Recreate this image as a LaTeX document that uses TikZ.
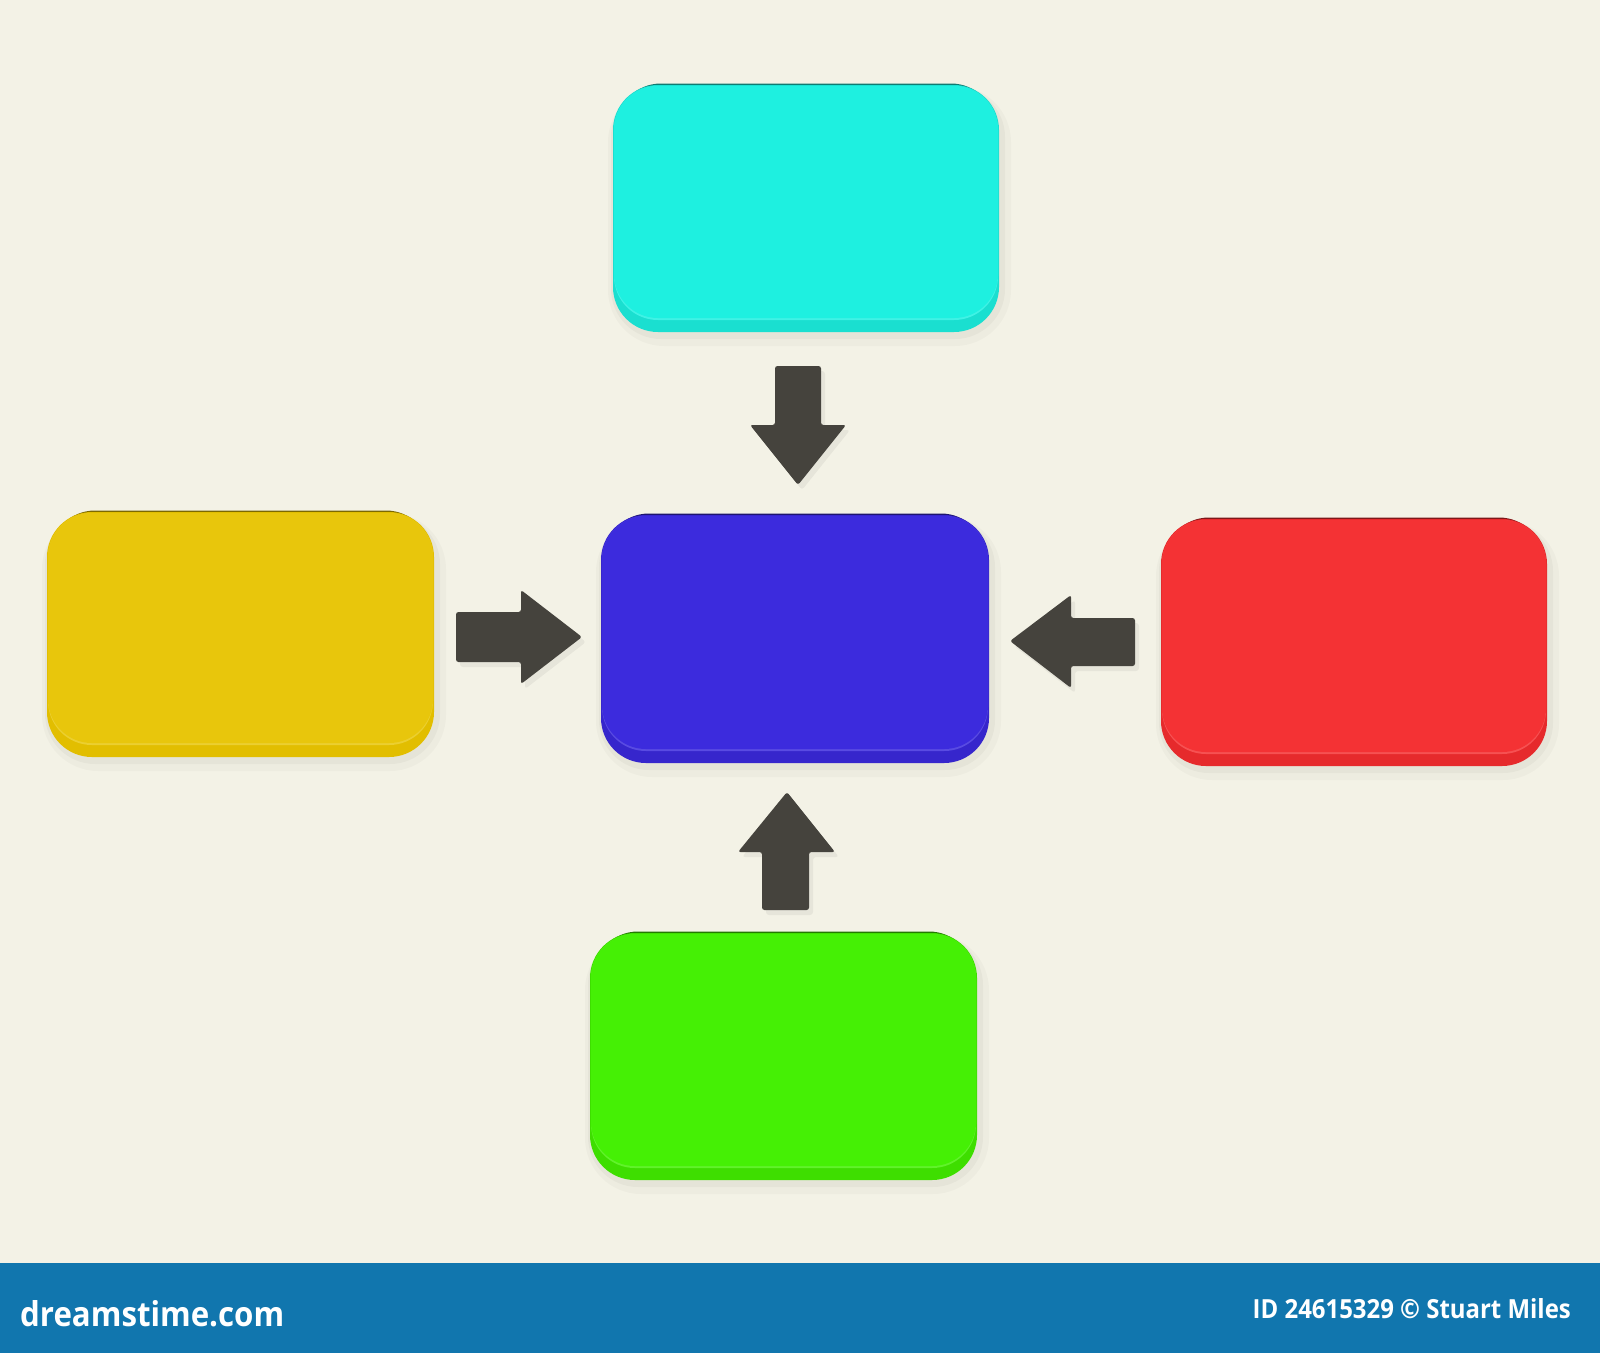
\documentclass[tikz,border=0pt]{standalone}
\usepackage{graphicx}
\usepackage{fontspec}
\newfontfamily\logofont{Open Sans}
\newfontfamily\creditfont{Open Sans}
\definecolor{bgc}{HTML}{F3F2E6}
\definecolor{barc}{HTML}{1176AE}
\definecolor{arrowc}{HTML}{45433D}
\definecolor{cyanface}{HTML}{1EF0E0}
\definecolor{cyanside}{HTML}{1ADFD0}
\definecolor{yelface}{HTML}{E8C60C}
\definecolor{yelside}{HTML}{E2BE00}
\definecolor{blueface}{HTML}{3C2BDD}
\definecolor{blueside}{HTML}{3626CC}
\definecolor{redface}{HTML}{F43234}
\definecolor{redside}{HTML}{E62A2C}
\definecolor{grnface}{HTML}{45F005}
\definecolor{grnside}{HTML}{3EDE00}
\tikzset{
  face/.style={rectangle, rounded corners=44pt, inner sep=0pt, outer sep=0pt},
  blockarrow/.style={fill=arrowc, rounded corners=2.5pt},
  arrowshadow/.style={fill=black, opacity=0.05, rounded corners=3pt},
}
\newcommand\myslab[7]{%
  \fill[black, opacity=0.025, rounded corners=56pt] (#2-5,#3+1) rectangle (#4+12,#5+14);
  \fill[black, opacity=0.03, rounded corners=50pt] (#2-2,#3+2) rectangle (#4+6,#5+7);
  \fill[#7!55!black, rounded corners=45pt] (#2+3,#3-1.5) rectangle (#4-3,#5-40);
  \fill[#7, rounded corners=45pt] (#2,#3) rectangle (#4,#5);
  \fill[#6!85!white, rounded corners=44pt] (#2+1,#3+1) rectangle (#4-1,#5-12);
  \node[face, fill=#6, minimum width={#4-#2-2}, minimum height={#5-#3-15}] (#1) at ({(#2+#4)/2},{(#3+#5-14)/2+0.5}) {};
}
\begin{document}
\begin{tikzpicture}[x=1pt,y=-1pt]
\useasboundingbox (0,0) rectangle (1600,1353);
\fill[bgc] (0,0) rectangle (1600,1353);

% boxes
\myslab{cyanbox}{613}{85}{999}{332}{cyanface}{cyanside}
\myslab{yelbox}{47}{512}{434}{757}{yelface}{yelside}
\myslab{bluebox}{601}{515}{989}{763}{blueface}{blueside}
\myslab{redbox}{1161}{519}{1547}{766}{redface}{redside}
\myslab{grnbox}{590}{933}{977}{1180}{grnface}{grnside}

% arrow shadows
\begin{scope}[shift={(4,5)}]
\path[arrowshadow] (775,366) -- (821,366) -- (821,425) -- (846,425) -- (798,485) -- (750,425) -- (775,425) -- cycle;
\path[arrowshadow] (456,612) -- (521,612) -- (521,590) -- (582,637) -- (521,684) -- (521,662) -- (456,662) -- cycle;
\path[arrowshadow] (1135,618) -- (1071,618) -- (1071,595) -- (1010,641) -- (1071,688) -- (1071,666) -- (1135,666) -- cycle;
\path[arrowshadow] (762,910) -- (762,852) -- (738,852) -- (787,792) -- (835,852) -- (809,852) -- (809,910) -- cycle;
\end{scope}

% arrows
\path[blockarrow] (775,366) -- (821,366) -- (821,425) -- (846,425) -- (798,485) -- (750,425) -- (775,425) -- cycle;
\path[blockarrow] (456,612) -- (521,612) -- (521,590) -- (582,637) -- (521,684) -- (521,662) -- (456,662) -- cycle;
\path[blockarrow] (1135,618) -- (1071,618) -- (1071,595) -- (1010,641) -- (1071,688) -- (1071,666) -- (1135,666) -- cycle;
\path[blockarrow] (762,910) -- (762,852) -- (738,852) -- (787,792) -- (835,852) -- (809,852) -- (809,910) -- cycle;

% bottom bar
\fill[barc] (0,1263) rectangle (1600,1353);
\node[anchor=base west, inner sep=0pt, text=white] (logo) at (20,1326)
  {\resizebox{264pt}{26pt}{\logofont\bfseries dreamstime.com}};
\node[anchor=base east, inner sep=0pt, text=white] (credit) at (1571,1318)
  {\resizebox{318pt}{20pt}{\creditfont\bfseries ID 24615329 © Stuart Miles}};
\end{tikzpicture}
\end{document}
